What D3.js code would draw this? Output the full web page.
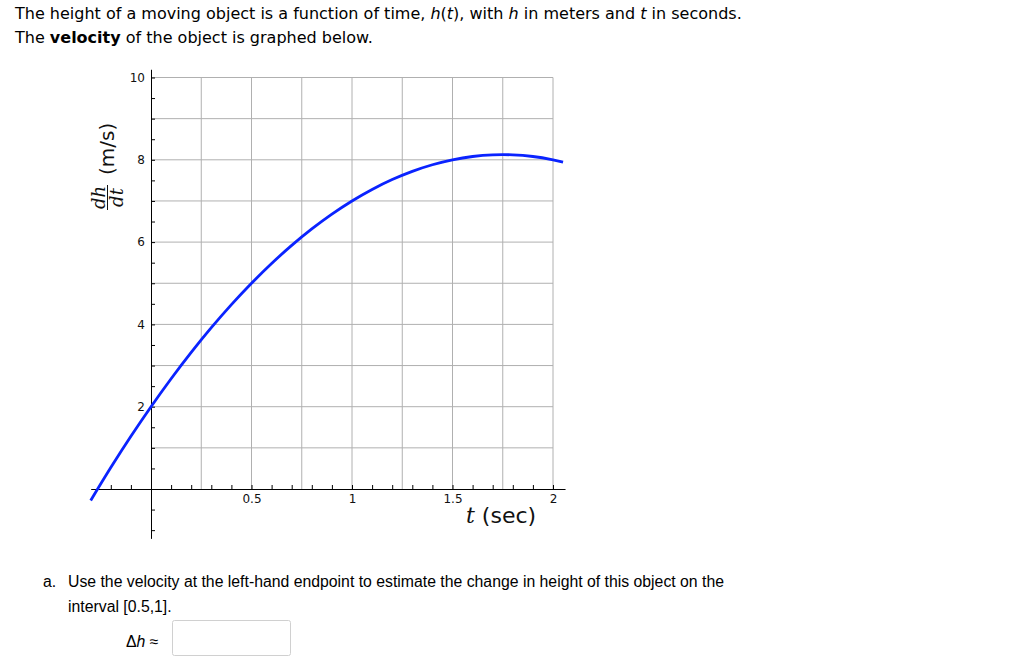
<!DOCTYPE html>
<html>
<head>
<meta charset="utf-8">
<script src="https://cdn.jsdelivr.net/npm/d3@7"></script>
<style>
  body { margin: 0; background: #fff; }
  svg text { white-space: pre; }
</style>
</head>
<body>
<svg id="page" width="1024" height="670"></svg>
<script>
// velocity, t in seconds, v in m/s
var tValues = [-0.3, -0.2, -0.1, 0, 0.1, 0.2, 0.3, 0.4, 0.5, 0.6, 0.7, 0.8, 0.9, 1.0,
               1.1, 1.2, 1.3, 1.4, 1.5, 1.6, 1.7, 1.8, 1.9, 2.0, 2.05];
var vValues = [-0.28, 0.52, 1.28, 2, 2.68, 3.32, 3.92, 4.48, 5, 5.48, 5.92, 6.32, 6.68, 7,
               7.28, 7.52, 7.72, 7.88, 8, 8.08, 8.12, 8.12, 8.08, 8, 7.945];

var xTickLabels = [0.5, 1, 1.5, 2];
var yTickLabels = [2, 4, 6, 8, 10];
var gridX = [0.25, 0.5, 0.75, 1, 1.25, 1.5, 1.75, 2];
var gridY = [1, 2, 3, 4, 5, 6, 7, 8, 9, 10];
var minorX = [-0.2, -0.1, 0.1, 0.2, 0.3, 0.4, 0.5, 0.6, 0.7, 0.8, 0.9, 1.0,
              1.1, 1.2, 1.3, 1.4, 1.5, 1.6, 1.7, 1.8, 1.9, 2.0];
var minorY = [-1, -0.5, 0.5, 1, 1.5, 2, 2.5, 3, 3.5, 4, 4.5, 5, 5.5, 6, 6.5,
              7, 7.5, 8, 8.5, 9, 9.5, 10];
var xExtent = [-0.3, 2.06];
var yExtent = [-1.2, 10.2];

var svg = d3.select("#page");

// ---- header text
var head = svg.append("g")
    .style("font-family", "'DejaVu Sans', Verdana, sans-serif")
    .style("font-size", "16px")
    .attr("fill", "#000");
var l1 = head.append("text").attr("x", 15).attr("y", 19);
l1.append("tspan").text("The height of a moving object is a function of time, ");
l1.append("tspan").style("font-style", "italic").text("h");
l1.append("tspan").text("(");
l1.append("tspan").style("font-style", "italic").text("t");
l1.append("tspan").text("), with ");
l1.append("tspan").style("font-style", "italic").text("h");
l1.append("tspan").text(" in meters and ");
l1.append("tspan").style("font-style", "italic").text("t");
l1.append("tspan").text(" in seconds.");
var l2 = head.append("text").attr("x", 15).attr("y", 43);
l2.append("tspan").text("The ");
l2.append("tspan").style("font-weight", "bold").text("velocity");
l2.append("tspan").text(" of the object is graphed below.");

// ---- chart
var x = d3.scaleLinear().domain([0, 2]).range([151, 553]);
var y = d3.scaleLinear().domain([0, 10]).range([489, 77.5]);

var chart = svg.append("g");

// grid
chart.append("g").selectAll("line")
    .data(gridX).enter().append("line")
    .attr("x1", function(d) { return x(d); })
    .attr("x2", function(d) { return x(d); })
    .attr("y1", y(0)).attr("y2", y(10))
    .attr("stroke", "#b0b0b0").attr("stroke-width", 1);
chart.append("g").selectAll("line")
    .data(gridY).enter().append("line")
    .attr("x1", x(0)).attr("x2", x(2))
    .attr("y1", function(d) { return y(d); })
    .attr("y2", function(d) { return y(d); })
    .attr("stroke", "#b0b0b0").attr("stroke-width", 1);

// axes: the domain line spans the visible extent
var xa = d3.scaleLinear().domain(xExtent).range(xExtent.map(x));
var ya = d3.scaleLinear().domain(yExtent).range(yExtent.map(y));

chart.append("g")
    .attr("transform", "translate(0," + y(0) + ")")
    .call(d3.axisTop(xa).tickValues(minorX).tickSize(4).tickSizeOuter(0).tickFormat(""));
var gxl = chart.append("g")
    .attr("transform", "translate(0," + y(0) + ")")
    .call(d3.axisBottom(xa).tickValues(xTickLabels).tickSize(0).tickPadding(5)
          .tickFormat(d3.format("")));
gxl.select(".domain").remove();

chart.append("g")
    .attr("transform", "translate(" + x(0) + ",0)")
    .call(d3.axisRight(ya).tickValues(minorY).tickSize(4).tickSizeOuter(0).tickFormat(""));
var gyl = chart.append("g")
    .attr("transform", "translate(" + x(0) + ",0)")
    .call(d3.axisLeft(ya).tickValues(yTickLabels).tickSize(0).tickPadding(6));
gyl.select(".domain").remove();

chart.selectAll(".domain, .tick line").attr("stroke", "#000").attr("stroke-width", 1);
chart.selectAll(".tick text")
    .style("font-family", "'DejaVu Sans', sans-serif")
    .style("font-size", "12px")
    .attr("fill", "#111");

// velocity curve
var line = d3.line()
    .x(function(d, i) { return x(tValues[i]); })
    .y(function(d) { return y(d); })
    .curve(d3.curveCatmullRom);
chart.append("path")
    .attr("d", line(vValues))
    .attr("fill", "none")
    .attr("stroke", "#0a23ff")
    .attr("stroke-width", 2.8);

// axis labels
var xl = chart.append("text")
    .attr("x", 466).attr("y", 523)
    .style("font-family", "'DejaVu Sans', sans-serif")
    .style("font-size", "22px")
    .attr("fill", "#111");
xl.append("tspan").style("font-family", "'DejaVu Serif', serif").style("font-style", "italic").text("t");
xl.append("tspan").text(" (sec)");

var yl = chart.append("g").attr("transform", "translate(114,175) rotate(-90)");
yl.append("text").attr("x", 0).attr("y", 0)
    .style("font-family", "'DejaVu Sans', sans-serif")
    .style("font-size", "20px")
    .attr("fill", "#111")
    .text("(m/s)");
var frac = yl.append("g")
    .style("font-family", "'DejaVu Serif', serif")
    .style("font-style", "italic")
    .style("font-size", "18px")
    .attr("fill", "#111")
    .attr("text-anchor", "middle");
frac.append("text").attr("x", -22.5).attr("y", -9.5).text("dh");
frac.append("text").attr("x", -22.5).attr("y", 8.5).text("dt");
frac.append("line").attr("x1", -35).attr("x2", -10).attr("y1", -6.5).attr("y2", -6.5)
    .attr("stroke", "#111").attr("stroke-width", 1);

// ---- question
var q = svg.append("g")
    .style("font-family", "'Liberation Sans', Arial, sans-serif")
    .style("font-size", "15.8px")
    .attr("fill", "#000");
q.append("text").attr("x", 43).attr("y", 587).text("a.");
q.append("text").attr("x", 68).attr("y", 587)
    .text("Use the velocity at the left-hand endpoint to estimate the change in height of this object on the");
q.append("text").attr("x", 68).attr("y", 612).text("interval [0.5,1].");
var dh = q.append("text").attr("x", 126).attr("y", 647);
dh.append("tspan").text("\u0394");
dh.append("tspan").style("font-style", "italic").text("h");
dh.append("tspan").text(" \u2248");
svg.append("rect")
    .attr("x", 172.5).attr("y", 620.5).attr("width", 118).attr("height", 35)
    .attr("rx", 2)
    .attr("fill", "#fff").attr("stroke", "#d0d0d0");
</script>
</body>
</html>
